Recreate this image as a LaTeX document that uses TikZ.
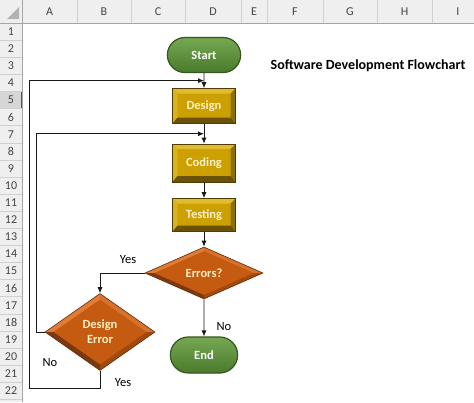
\documentclass[tikz,border=0pt]{standalone}
\usepackage{fontspec}
\setmainfont{Carlito}
\usetikzlibrary{shapes, arrows.meta, positioning, calc}

\definecolor{pillgreen}{HTML}{4A7A2C}
\definecolor{pilltop}{HTML}{76A853}
\definecolor{pillline}{HTML}{36551F}
\definecolor{gold}{HTML}{CCA000}
\definecolor{goldlight}{HTML}{E2BC30}
\definecolor{goldside}{HTML}{8E6E08}
\definecolor{golddark}{HTML}{6A520A}
\definecolor{goldline}{HTML}{4F3D05}
\definecolor{rust}{HTML}{C55A11}
\definecolor{rustlight}{HTML}{DE7C38}
\definecolor{rustside}{HTML}{A04A12}
\definecolor{rustdark}{HTML}{7A3910}
\definecolor{rustline}{HTML}{6A300C}
\definecolor{paletext}{HTML}{FFF0C4}
\definecolor{hdrfill}{HTML}{EFEFEF}
\definecolor{hdrsel}{HTML}{D6D6D6}
\definecolor{hdrline}{HTML}{D0D0D0}
\definecolor{hdrtext}{HTML}{444444}
\definecolor{selgreen}{HTML}{217346}

\tikzset{
  shapefont/.style={font=\bfseries\fontsize{12.5}{15}\selectfont},
  pill/.style={rounded rectangle, minimum width=80pt, minimum height=35pt,
    draw=pillline, line width=1.2pt, top color=pilltop, bottom color=pillgreen,
    text=white, shapefont},
  bevelbox/.style={rectangle, minimum width=63pt, minimum height=35pt, inner sep=0pt,
    fill=gold, draw=goldline, line width=0.6pt, text=paletext, shapefont,
    path picture={
      \coordinate (nw) at (path picture bounding box.north west);
      \coordinate (ne) at (path picture bounding box.north east);
      \coordinate (se) at (path picture bounding box.south east);
      \coordinate (sw) at (path picture bounding box.south west);
      \fill[goldlight] (nw) -- (ne) -- ($(ne)+(-5pt,-5pt)$) -- ($(nw)+(5pt,-5pt)$) -- cycle;
      \fill[goldlight!60!gold] (nw) -- (sw) -- ($(sw)+(5pt,6pt)$) -- ($(nw)+(5pt,-5pt)$) -- cycle;
      \fill[goldside] (ne) -- (se) -- ($(se)+(-5pt,6pt)$) -- ($(ne)+(-5pt,-5pt)$) -- cycle;
      \fill[golddark] (sw) -- (se) -- ($(se)+(-5pt,6pt)$) -- ($(sw)+(5pt,6pt)$) -- cycle;
    }},
  decision/.style={diamond, inner sep=0pt, align=center,
    fill=rust, draw=rustline, line width=0.6pt, text=paletext, shapefont,
    path picture={
      \coordinate (m) at (path picture bounding box.center);
      \coordinate (n) at (path picture bounding box.north);
      \coordinate (e) at (path picture bounding box.east);
      \coordinate (s) at (path picture bounding box.south);
      \coordinate (w) at (path picture bounding box.west);
      \fill[rustlight] (w) -- (n) -- ($(m)!0.85!(n)$) -- ($(m)!0.85!(w)$) -- cycle;
      \fill[rustlight!70!rust] (n) -- (e) -- ($(m)!0.85!(e)$) -- ($(m)!0.85!(n)$) -- cycle;
      \fill[rustside] (e) -- (s) -- ($(m)!0.85!(s)$) -- ($(m)!0.85!(e)$) -- cycle;
      \fill[rustdark] (s) -- (w) -- ($(m)!0.85!(w)$) -- ($(m)!0.85!(s)$) -- cycle;
    }},
  flow/.style={draw=black!90, line width=0.8pt},
  arr/.style={flow, -{Latex[length=6pt,width=5pt]}},
  tag/.style={font=\fontsize{12.5}{15}\selectfont, inner sep=1pt}
}

\begin{document}
\begin{tikzpicture}[x=1pt, y=-1pt]
  \useasboundingbox (0,0) rectangle (474,402);
  \fill[white] (0,0) rectangle (474,402);

  % sheet headers
  \fill[hdrfill] (0,0) rectangle (474,23);
  \fill[hdrfill] (0,0) rectangle (22,402);
  \fill[hdrsel] (0,{23+4*17.1}) rectangle (22,{23+5*17.1});
  \fill[selgreen] (20.5,{23+4*17.1}) rectangle (22,{23+5*17.1});
  \fill[black!30] (19,7) -- (19,19) -- (7,19) -- cycle;
  \foreach \x in {22,77,131,185,241,267,323,377,432}
    \draw[hdrline] (\x,0) -- (\x,23);
  \foreach \r in {1,...,22}
    \draw[hdrline] (0,{23+17.1*\r}) -- (22,{23+17.1*\r});
  \draw[black!35] (0,23) -- (474,23);
  \draw[black!35] (22,0) -- (22,402);
  \begin{scope}[every node/.style={text=hdrtext, font=\fontsize{12}{14}\selectfont}]
    \foreach \x/\l in {49.5/A,104/B,158/C,213/D,254/E,295/F,350/G,404.5/H,458/I}
      \node (col\l) at (\x,12) {\l};
    \foreach \r in {1,...,22}
      \node (row\r) at (11,{23+17.1*\r-8.55}) {\r};
  \end{scope}

  % flowchart shapes
  \node[pill] (start) at (204,55) {Start};
  \node[bevelbox] (design) at (204,106) {Design};
  \node[bevelbox, minimum height=38pt] (coding) at (204,163) {Coding};
  \node[bevelbox, minimum height=33pt] (testing) at (204,215) {Testing};
  \node[decision, minimum width=118pt, minimum height=52pt] (errors) at (204,273) {Errors?};
  \node[decision, minimum width=110pt, minimum height=77pt] (deserr) at (100,332) {Design\\Error};
  \node[pill, minimum width=74pt, minimum height=36pt] (end) at (204,355) {End};

  \node[font=\bfseries\fontsize{14}{16}\selectfont] (title) at (368,66) {Software Development Flowchart};

  % loop points
  \coordinate (loopA) at ($(start.south)!0.5!(design.north)$);
  \coordinate (loopB) at ($(design.south)!0.5!(coding.north)$);
  \coordinate (outerleft) at (29,388);
  \coordinate (innerleft) at (36,332);

  % connectors
  \draw[arr] (start) -- (design);
  \draw[arr] (design) -- (coding);
  \draw[arr] (coding) -- (testing);
  \draw[arr] (testing) -- (errors);
  \draw[arr] (errors) -- (end);
  \draw[arr] (errors.west) -| (deserr.north);
  \draw[arr] (deserr.south) |- (outerleft) |- (loopA);
  \draw[arr] (deserr.west) -- (innerleft) |- (loopB);

  % labels
  \node[tag] (yesA) at (128,260) {Yes};
  \node[tag] (noA) at (224,327) {No};
  \node[tag] (noB) at (50,363) {No};
  \node[tag] (yesB) at (123,383) {Yes};
\end{tikzpicture}
\end{document}
